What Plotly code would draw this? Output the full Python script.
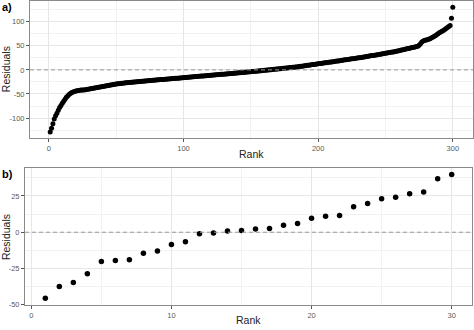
import plotly.graph_objects as go

# Panel a: 300 ranked residuals
resid_a = [
    -129, -121, -112, -102, -95, -90, -84, -78, -74, -69,
    -65, -61, -57, -54, -51, -49, -47, -46, -45, -44,
    -43.5, -43, -42.5, -42, -41.8, -41.5, -41, -40.5, -40, -39.5,
    -39, -38.5, -38, -37.5, -37, -36.5, -36, -35.5, -35, -34.5,
    -34, -33.5, -33, -32.5, -32, -31.5, -31, -30.5, -30, -29.5,
    -29, -28.6, -28.2, -27.8, -27.5, -27.2, -26.9, -26.6, -26.4, -26.1,
    -25.8, -25.6, -25.3, -25.0, -24.8, -24.5, -24.2, -24.0, -23.7, -23.4,
    -23.2, -22.9, -22.6, -22.4, -22.1, -21.9, -21.6, -21.4, -21.1, -20.9,
    -20.7, -20.4, -20.2, -19.9, -19.7, -19.5, -19.2, -19.0, -18.7, -18.5,
    -18.3, -18.0, -17.8, -17.5, -17.3, -17.1, -16.8, -16.6, -16.3, -16.1,
    -15.9, -15.6, -15.4, -15.1, -14.9, -14.6, -14.4, -14.2, -13.9, -13.7,
    -13.4, -13.2, -12.9, -12.7, -12.5, -12.2, -12.0, -11.7, -11.5, -11.2,
    -11.0, -10.8, -10.5, -10.3, -10.0, -9.8, -9.5, -9.3, -9.1, -8.8,
    -8.6, -8.3, -8.1, -7.8, -7.6, -7.4, -7.1, -6.9, -6.6, -6.3,
    -6.1, -5.8, -5.5, -5.3, -5.0, -4.8, -4.5, -4.2, -4.0, -3.7,
    -3.4, -3.2, -2.9, -2.6, -2.4, -2.1, -1.8, -1.6, -1.3, -1.0,
    -0.7, -0.4, -0.1, 0.2, 0.5, 0.8, 1.1, 1.4, 1.7, 2.0,
    2.3, 2.6, 2.9, 3.2, 3.5, 3.8, 4.1, 4.4, 4.7, 5.0,
    5.3, 5.6, 5.9, 6.2, 6.6, 7.0, 7.4, 7.8, 8.2, 8.6,
    9.0, 9.4, 9.8, 10.2, 10.6, 11.0, 11.4, 11.8, 12.2, 12.6,
    13.0, 13.4, 13.8, 14.2, 14.6, 15.0, 15.4, 15.8, 16.2, 16.6,
    17.0, 17.4, 17.8, 18.3, 18.7, 19.1, 19.5, 20.0, 20.4, 20.8,
    21.2, 21.6, 22.1, 22.5, 22.9, 23.3, 23.8, 24.2, 24.6, 25.0,
    25.4, 25.9, 26.3, 26.8, 27.3, 27.7, 28.2, 28.7, 29.2, 29.7,
    30.1, 30.6, 31.1, 31.6, 32.1, 32.5, 33.0, 33.5, 34.0, 34.5,
    34.9, 35.4, 35.9, 36.4, 36.9, 37.3, 38.0, 38.6, 39.3, 39.9,
    40.6, 41.2, 41.9, 42.5, 43.2, 43.8, 44.5, 45.1, 45.8, 46.4,
    47.1, 47.7, 48.4, 49.0, 51, 54, 58, 60, 61, 62,
    62.8, 63.5, 64.5, 66, 68, 69.5, 71, 73, 75, 77,
    78.5, 80, 82, 84, 86, 88, 90, 92, 107, 130,
]
rank_a = list(range(1, len(resid_a) + 1))

# Panel b: 30 ranked residuals
resid_b = [
    -45.5, -37.4, -34.7, -28.6, -20.1, -19.4, -18.9, -14.4, -12.9, -8.4,
    -6.6, -1.1, -0.5, 0.9, 1.2, 2.2, 2.5, 4.9, 6.1, 9.7,
    11.0, 11.5, 17.5, 19.8, 23.0, 24.1, 26.6, 27.7, 36.9, 39.8,
]
rank_b = list(range(1, len(resid_b) + 1))

xticks_a = [0, 100, 200, 300]
yticks_a = [-100, -50, 0, 50, 100]
xticks_b = [0, 10, 20, 30]
yticks_b = [-50, -25, 0, 25]

W, H = 474, 330
FONT = "Liberation Sans, Arial, sans-serif"

fig = go.Figure()
fig.add_trace(go.Scatter(x=rank_a, y=resid_a, mode="markers",
                         marker=dict(color="black", size=5, line=dict(width=0)),
                         xaxis="x", yaxis="y", showlegend=False))
fig.add_trace(go.Scatter(x=rank_b, y=resid_b, mode="markers",
                         marker=dict(color="black", size=5.5, line=dict(width=0)),
                         xaxis="x2", yaxis="y2", showlegend=False))

def ax(domain, rng, ticks, minor_dt, anchor):
    return dict(
        domain=domain, range=rng, anchor=anchor,
        tickmode="array", tickvals=ticks, ticktext=[str(t) for t in ticks],
        showgrid=True, gridcolor="#e6e6e6", gridwidth=1,
        minor=dict(tick0=ticks[0], dtick=minor_dt, showgrid=True,
                   gridcolor="#f2f2f2", gridwidth=0.6, ticks=""),
        zeroline=False, showline=True, mirror=True,
        linecolor="#8a8a8a", linewidth=1,
        ticks="outside", ticklen=3, tickcolor="#555555", tickwidth=1,
        tickfont=dict(family=FONT, size=7.5, color="#5a5a5a"),
    )

fig.update_layout(
    width=W, height=H,
    margin=dict(l=0, r=0, t=0, b=0),
    paper_bgcolor="white", plot_bgcolor="white",
    xaxis=ax([30 / W, 473 / W], [-14, 315], xticks_a, 50, "y"),
    yaxis=ax([(H - 140) / H, (H - 1) / H], [-142, 143], yticks_a, 25, "x"),
    xaxis2=ax([25 / W, 472 / W], [-0.45, 31.45], xticks_b, 5, "y2"),
    yaxis2=ax([(H - 309) / H, (H - 170) / H], [-50.3, 44.3], yticks_b, 12.5, "x2"),
)

for xr, yr in (("x", "y"), ("x2", "y2")):
    fig.add_shape(type="line", xref=f"{xr} domain", x0=0, x1=1,
                  yref=yr, y0=0, y1=0,
                  line=dict(color="#9a9a9a", width=1, dash="4px,3px"))

def ann(text, x, y, size, angle=0, bold=False, color="#222222"):
    fig.add_annotation(text=f"<b>{text}</b>" if bold else text,
                       x=x / W, y=1 - y / H, xref="paper", yref="paper",
                       showarrow=False, textangle=angle,
                       xanchor="center", yanchor="middle",
                       font=dict(family=FONT, size=size, color=color))

ann("a)", 7, 7, 11, bold=True, color="black")
ann("b)", 7, 176, 11, bold=True, color="black")
ann("Rank", 251, 156, 10.5)
ann("Rank", 248, 324, 10.5)
ann("Residuals", 6, 70, 10.5, angle=-90)
ann("Residuals", 6, 240, 10.5, angle=-90)

fig.write_html("out.html")
